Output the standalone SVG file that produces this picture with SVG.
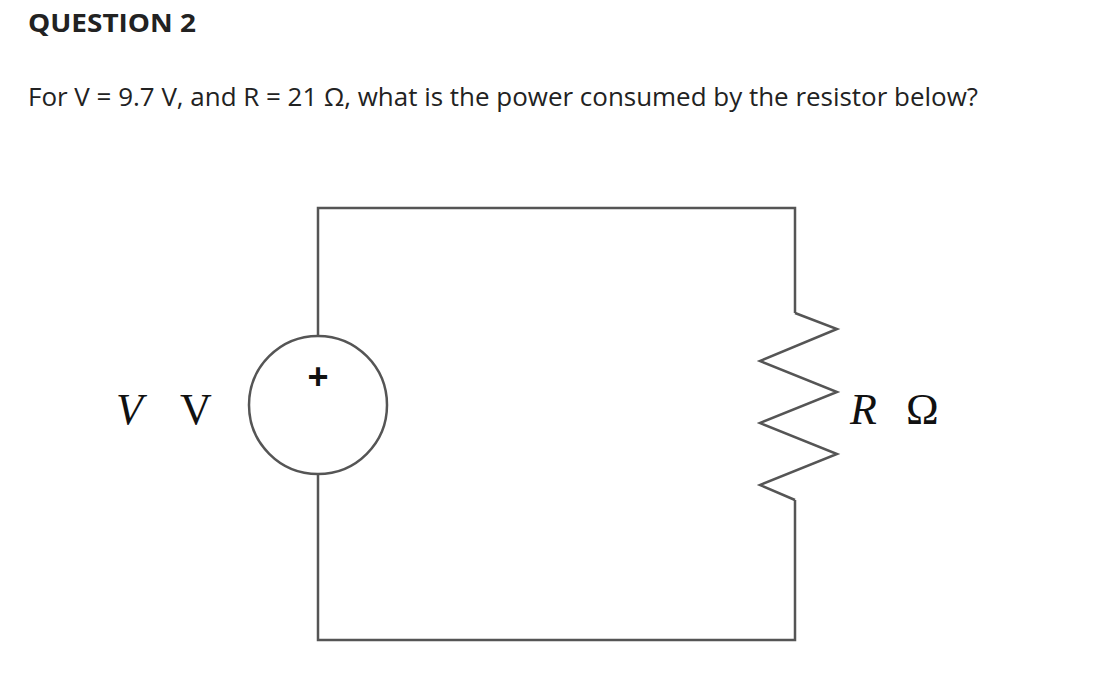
<svg xmlns="http://www.w3.org/2000/svg" width="1104" height="688" viewBox="0 0 1104 688">
<style>
.w{fill:none;stroke:#555;stroke-width:2.5}
.t{font-family:"Open Sans","Noto Sans",sans-serif;fill:#222}
.m{font-family:"Liberation Serif","DejaVu Serif",serif;fill:#111;font-size:44px}
</style>
<rect width="1104" height="688" fill="#fff"/>
<text class="t" x="28" y="32" font-size="25" font-weight="bold" textLength="168" lengthAdjust="spacingAndGlyphs">QUESTION 2</text>
<text class="t" x="28" y="106" font-size="25" textLength="950" lengthAdjust="spacingAndGlyphs">For V = 9.7 V, and R = 21 Ω, what is the power consumed by the resistor below?</text>
<g id="connectors">
<polyline class="w" points="318,337 318,208 795,208 795,313"/>
<polyline class="w" points="318,474 318,640 795,640 795,500"/>
</g>
<g id="source">
<circle class="w" cx="318" cy="405" r="69"/>
<text x="318" y="389" text-anchor="middle" font-family="Liberation Sans,sans-serif" font-size="36" font-weight="bold" fill="#111">+</text>
<text class="m" x="116" y="424" font-style="italic">V</text>
<text class="m" x="180" y="424">V</text>
</g>
<g id="resistor">
<polyline class="w" points="795,313 837,329 760,361 837,392 760,423 837,454 760,485 795,500"/>
<text class="m" x="850" y="424" font-style="italic">R</text>
<text class="m" x="906" y="424" font-size="50">Ω</text>
</g>
</svg>
